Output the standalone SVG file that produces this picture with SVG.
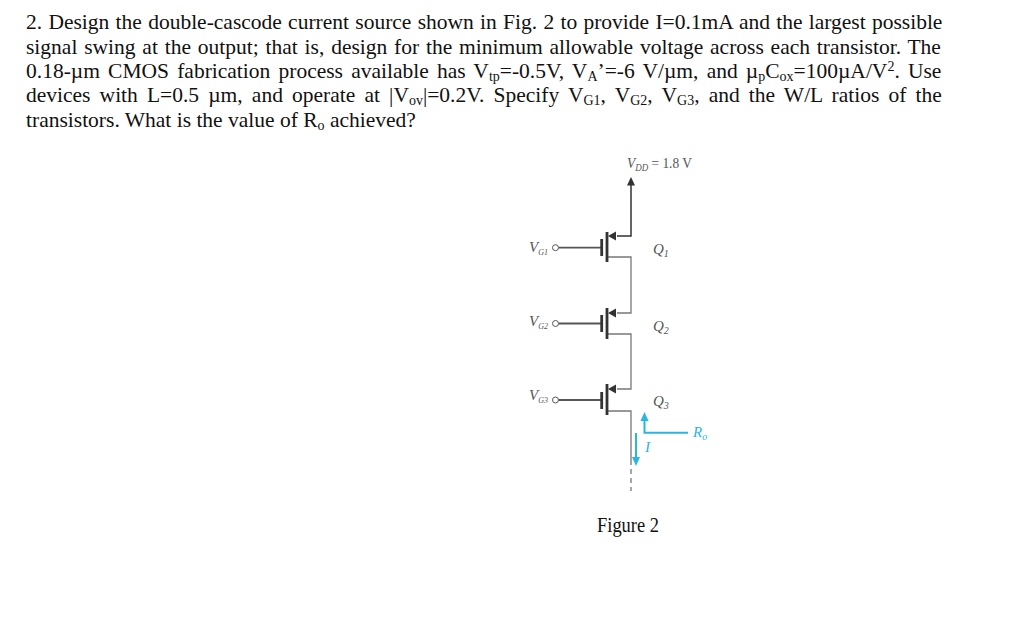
<svg xmlns="http://www.w3.org/2000/svg" width="1024" height="622" viewBox="0 0 1024 622">
<style>
.t{font-family:"Liberation Serif","Times New Roman",serif;font-size:21.5px;fill:#111}
.s{font-size:14px}
.l{font-family:"Liberation Serif","Times New Roman",serif;font-size:15px;fill:#555}
.li{font-style:italic}
.sub{font-size:10px}
.gs{font-size:8px}
.w{fill:none;stroke:#777;stroke-width:1.3}
.d{fill:none;stroke:#333;stroke-width:1.5}
.g{fill:none;stroke:#555;stroke-width:1.8}
.b{fill:none;stroke:#333;stroke-width:2.8}
.c{fill:#fff;stroke:#555;stroke-width:1}
.a{fill:#333}
.bl{fill:none;stroke:#29b6e0;stroke-width:2}
.blf{fill:#29b6e0}
.bt{font-family:"Liberation Serif","Times New Roman",serif;font-size:15px;font-style:italic;fill:#29b6e0}
</style>
<g id="question">
<text class="t" x="26" y="29" word-spacing="0.9">2. Design the double-cascode current source shown in Fig. 2 to provide I=0.1mA and the largest possible</text>
<text class="t" x="26" y="53.500" word-spacing="1.45">signal swing at the output; that is, design for the minimum allowable voltage across each transistor. The</text>
<text class="t" x="26" y="78" word-spacing="2.8">0.18-µm CMOS fabrication process available has V<tspan class="s" dy="3">tp</tspan><tspan dy="-3">=-0.5V, V</tspan><tspan class="s" dy="3">A</tspan><tspan dy="-3">’=-6 V/µm, and µ</tspan><tspan class="s" dy="3">p</tspan><tspan dy="-3">C</tspan><tspan class="s" dy="3">ox</tspan><tspan dy="-3">=100µA/V</tspan><tspan class="s" dy="-7">2</tspan><tspan dy="7">. Use</tspan></text>
<text class="t" x="26" y="102" word-spacing="3.76">devices with L=0.5 µm, and operate at |V<tspan class="s" dy="3">ov</tspan><tspan dy="-3">|=0.2V. Specify V</tspan><tspan class="s" dy="3">G1</tspan><tspan dy="-3">, V</tspan><tspan class="s" dy="3">G2</tspan><tspan dy="-3">, V</tspan><tspan class="s" dy="3">G3</tspan><tspan dy="-3">, and the W/L ratios of the</tspan></text>
<text class="t" x="26" y="127">transistors. What is the value of R<tspan class="s" dy="3">o</tspan><tspan dy="-3"> achieved?</tspan></text>
</g>
<g id="connectors">
<path class="d" d="M631 182V236H617"/>
<path class="w" d="M607 257H631V313H617"/>
<path class="w" d="M607 334H631V389H617"/>
<path class="w" d="M607 411H631V460"/>
<path class="w" stroke-dasharray="5 4" d="M631 460V491"/>
<path class="g" d="M558.500 247.700H602"/>
<path class="g" d="M558.500 323.500H602"/>
<path class="g" d="M558.500 400H602"/>
</g>
<g id="vdd">
<polygon class="a" points="631,177 627,185.500 635,185.500"/>
<text class="l" x="627" y="168" textLength="65" lengthAdjust="spacingAndGlyphs"><tspan class="li">V</tspan><tspan class="li sub" dy="3">DD</tspan><tspan dy="-3"> = 1.8 V</tspan></text>
</g>
<g id="q1">
<path class="b" d="M601.700 239V256M607 232V262"/>
<polygon class="a" points="608,236 616,231.500 616,240.500"/>
<circle class="c" cx="555.500" cy="247.700" r="3"/>
<text class="l li" x="529" y="252">V<tspan class="gs" dy="3">G1</tspan></text>
<text class="l li" x="653" y="254">Q<tspan class="sub" dy="3">1</tspan></text>
</g>
<g id="q2">
<path class="b" d="M601.700 315V332M607 308V339"/>
<polygon class="a" points="608,313 616,308.500 616,317.500"/>
<circle class="c" cx="555.500" cy="323.500" r="3"/>
<text class="l li" x="529" y="326">V<tspan class="gs" dy="3">G2</tspan></text>
<text class="l li" x="653" y="331">Q<tspan class="sub" dy="3">2</tspan></text>
</g>
<g id="q3">
<path class="b" d="M601.700 392V409M607 384V415"/>
<polygon class="a" points="608,389 616,384.500 616,393.500"/>
<circle class="c" cx="555.500" cy="400" r="3"/>
<text class="l li" x="529" y="400">V<tspan class="gs" dy="3">G3</tspan></text>
<text class="l li" x="653" y="406">Q<tspan class="sub" dy="3">3</tspan></text>
</g>
<g id="ro">
<path class="bl" d="M688 432.700H644.500V417"/>
<polygon class="blf" points="644.500,412 640.500,421 648.500,421"/>
<text class="bt" x="693" y="437">R<tspan class="sub" dy="3">o</tspan></text>
</g>
<g id="current">
<path class="bl" d="M636 433V460"/>
<polygon class="blf" points="636,466 632,457 640,457"/>
<text class="bt" x="645" y="452">I</text>
</g>
<g id="caption">
<text class="t" x="597" y="532" textLength="62" lengthAdjust="spacingAndGlyphs">Figure 2</text>
</g>
</svg>
